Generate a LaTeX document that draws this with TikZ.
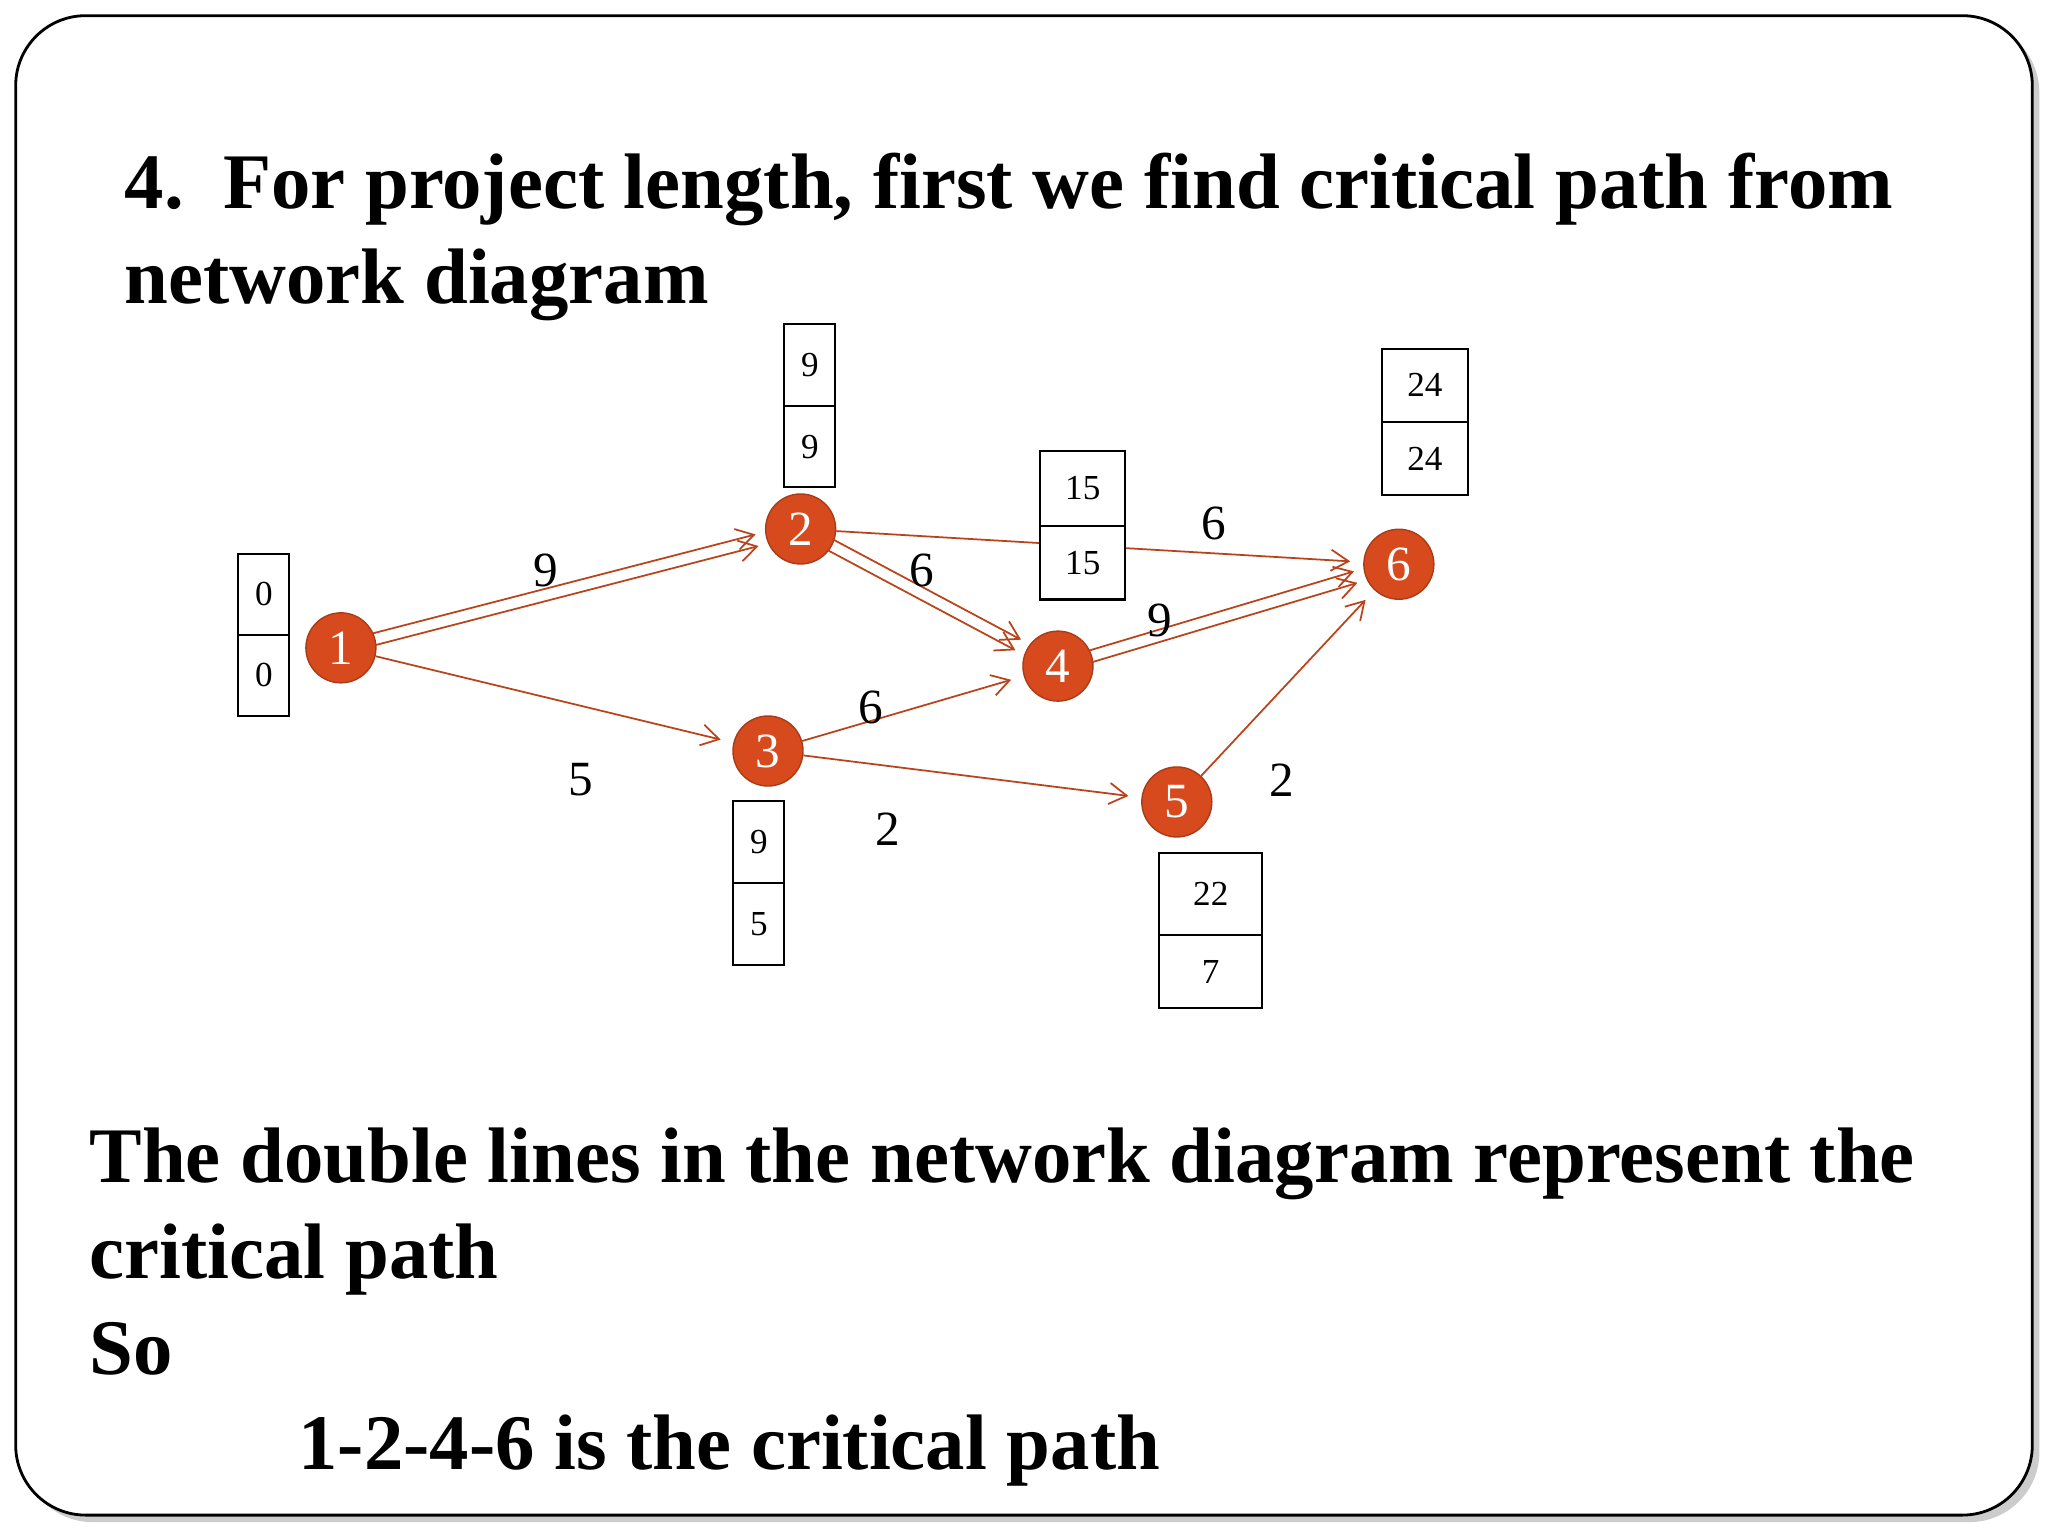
\documentclass[tikz,border=0pt]{standalone}
\usepackage{fontspec}
\setmainfont{Liberation Serif}
\usetikzlibrary{calc,arrows.meta,shadows}
\definecolor{nodeC}{HTML}{D64A1E}
\definecolor{edgeC}{HTML}{B9441C}
\begin{document}
\begin{tikzpicture}[x=0.01306cm,y=-0.01306cm,
  ev/.style={circle,fill=nodeC,draw=nodeC!80!black,minimum size=0.70cm,inner sep=0,text=white,font=\fontsize{14}{14}\selectfont},
  ed/.style={draw=edgeC,line width=0.5pt,-{Straight Barb[length=5pt,width=6pt]},shorten <=0pt,shorten >=0.13cm},
  crit/.style={ed,shorten <=0.33cm,shorten >=0.45cm},
  lab/.style={font=\fontsize{14}{14}\selectfont},
  bx/.style={draw,line width=0.6pt,fill=white,minimum width=#1,inner sep=0,font=\fontsize{10}{10}\selectfont},
  big/.style={font=\fontsize{22.4}{26}\selectfont\bfseries,anchor=base west,inner sep=0}]
\useasboundingbox (0,0) rectangle (1568,1176);
\draw[rounded corners=0.7cm,line width=0.8pt,fill=white,drop shadow={shadow xshift=2pt,shadow yshift=-2pt,opacity=0.4}] (12,12) rectangle (1556,1160);
\node[big] (t1) at (95,160) {4.\ \ For project length, first we find critical path from};
\node[big] (t2) at (95,232) {network diagram};
\node[ev] (n1) at (261,496) {1};
\node[ev] (n2) at (613,405) {2};
\node[ev] (n3) at (588,575) {3};
\node[ev] (n4) at (810,510) {4};
\node[ev] (n5) at (901,614) {5};
\node[ev] (n6) at (1071,432) {6};
% single edges
\draw[ed] (n2) -- (n6);
\draw[ed] (n1) -- (n3);
\draw[ed] (n3) -- (n4);
\draw[ed] (n3) -- (n5);
\draw[ed] (n5) -- (n6);
% double (critical) edges
\foreach \a/\b in {n1/n2,n2/n4,n4/n6}{
  \draw[crit] ($(\a)!0.06cm!90:(\b)$) -- ($(\b)!0.06cm!-90:(\a)$);
  \draw[crit] ($(\a)!0.06cm!-90:(\b)$) -- ($(\b)!0.06cm!90:(\a)$);
}
% boxes
\foreach \nm/\x/\ya/\yb/\yc/\w/\ta/\tb in {b1/202/424/486/548/39/0/0, b2/620/248/311/373/39/9/9, b3/581/613/676/739/39/9/5, b4/829/345/403/459/65/15/15, b6/1091/267/323/379/66/24/24, b5/927/653/716/772/79/22/7}{
  \node[bx=\w*0.01306cm,minimum height=(\yb-\ya)*0.01306cm] (\nm a) at (\x,{(\ya+\yb)/2}) {\ta};
  \node[bx=\w*0.01306cm,minimum height=(\yc-\yb)*0.01306cm] (\nm b) at (\x,{(\yb+\yc)/2}) {\tb};
}
% labels
\node[lab] (l1) at (418,437) {9};
\node[lab] (l2) at (706,437) {6};
\node[lab] (l3) at (929,401) {6};
\node[lab] (l4) at (888,475) {9};
\node[lab] (l5) at (667,542) {6};
\node[lab] (l6) at (445,597) {5};
\node[lab] (l7) at (680,635) {2};
\node[lab] (l8) at (981,597) {2};
\node[big] (s1) at (68,905) {The double lines in the network diagram represent the};
\node[big] (s2) at (68,979) {critical path};
\node[big] (s3) at (68,1052) {So};
\node[big] (s4) at (228,1125) {1-2-4-6 is the critical path};
\end{tikzpicture}
\end{document}
